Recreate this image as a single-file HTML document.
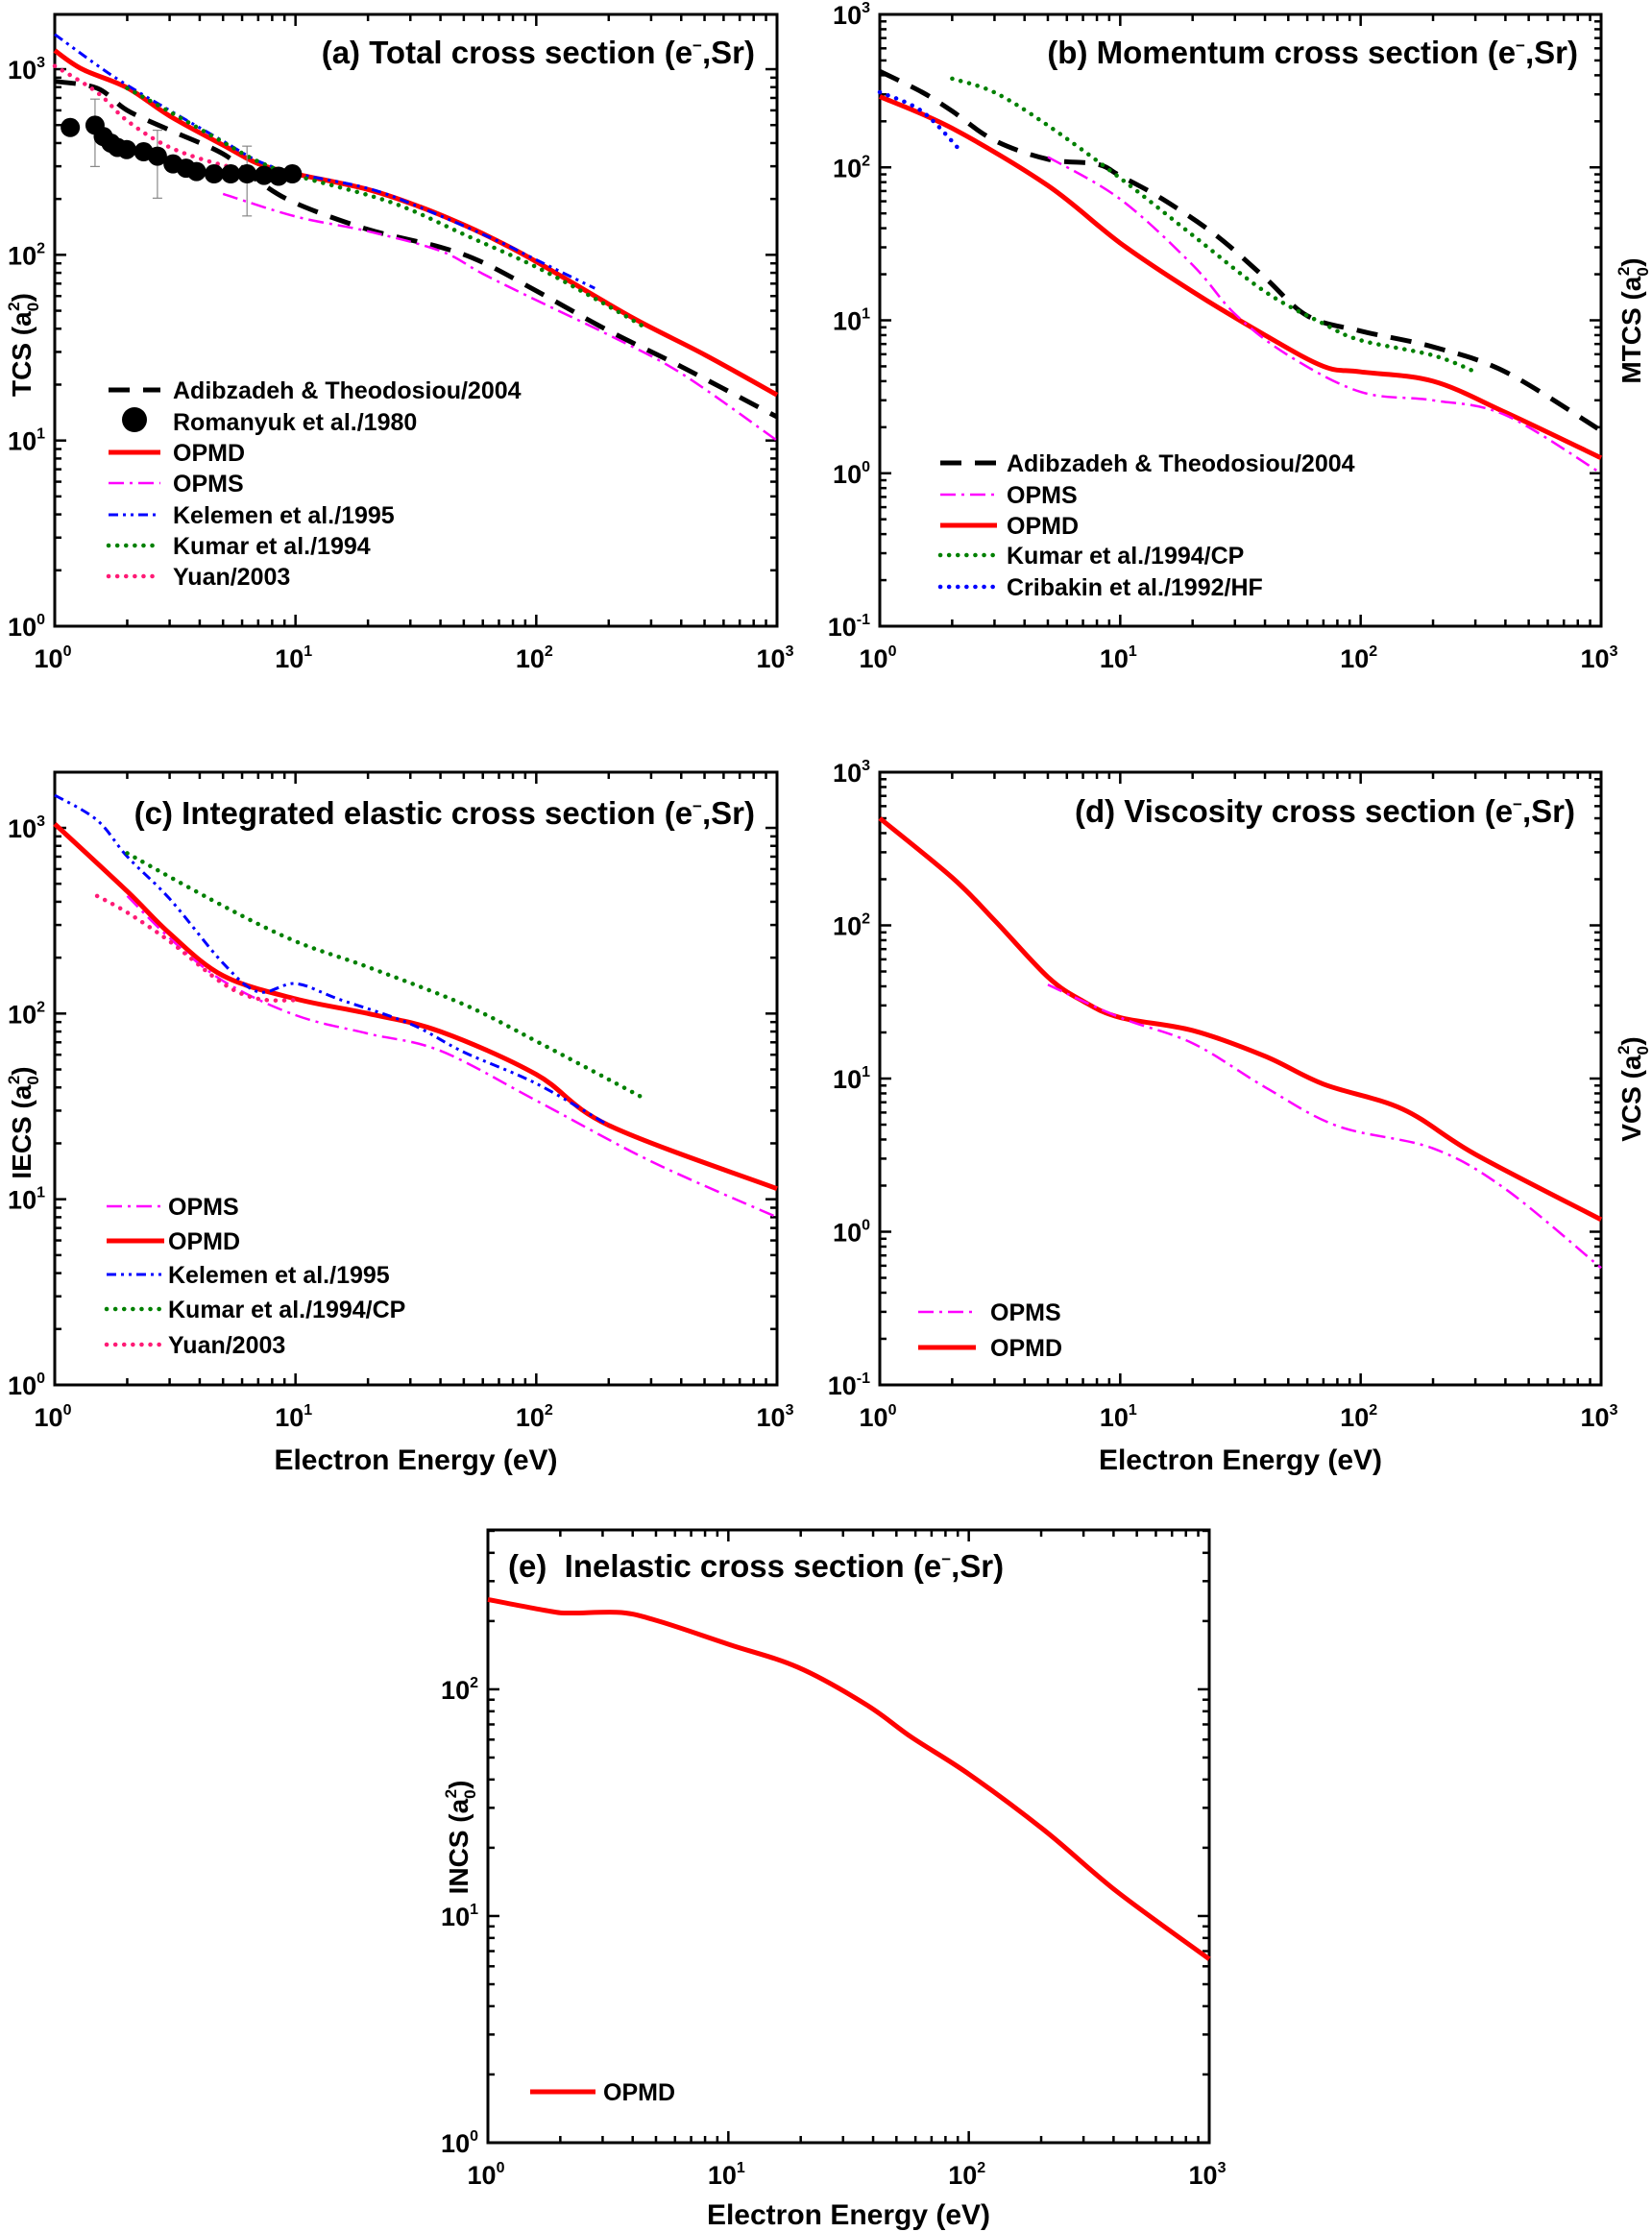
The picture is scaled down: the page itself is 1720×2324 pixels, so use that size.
<!DOCTYPE html>
<html><head><meta charset="utf-8"><style>
html,body{margin:0;padding:0;background:#fff}
svg{display:block}
text{font-family:"Liberation Sans",Arial,sans-serif;font-weight:bold;fill:#000}
</style></head><body>
<svg id="s" width="1720" height="2324" viewBox="0 0 1720 2324" xmlns="http://www.w3.org/2000/svg"></svg>
<script>
const S=document.getElementById('s');const NS='http://www.w3.org/2000/svg';
function el(t,a,txt){const e=document.createElementNS(NS,t);for(const k in a)e.setAttribute(k,a[k]);if(txt!==undefined)e.textContent=txt;S.appendChild(e);return e;}
function pw(b,ex,x,y,anchor,fs){
  const t=el('text',{x:x,y:y,'font-size':fs||27,'text-anchor':anchor||'middle'});
  const a=document.createElementNS(NS,'tspan');a.textContent=b;t.appendChild(a);
  const c=document.createElementNS(NS,'tspan');c.setAttribute('dy',-12);c.setAttribute('font-size',16);c.textContent=ex;t.appendChild(c);
}
function panel(p){
  const X=e=>p.x0+(Math.log10(e))/3*(p.x1-p.x0);
  const Y=v=>p.y1-(Math.log10(v)-p.ymin)/(p.ymax-p.ymin)*(p.y1-p.y0);
  p.X=X;p.Y=Y;
  el('rect',{x:p.x0,y:p.y0,width:p.x1-p.x0,height:p.y1-p.y0,fill:'none',stroke:'#000','stroke-width':3});
  for(let d=0;d<3;d++)for(let m=1;m<10;m++){const x=X(m*Math.pow(10,d));const L=m==1?12:7;
    if(m==1&&d==0)continue;
    el('line',{x1:x,y1:p.y1,x2:x,y2:p.y1-L,stroke:'#000','stroke-width':2.5});
    el('line',{x1:x,y1:p.y0,x2:x,y2:p.y0+L,stroke:'#000','stroke-width':2.5});}
  for(let d=0;d<=3;d++)pw('10',d,X(Math.pow(10,d))-2,p.y1+43);
  for(let d=Math.floor(p.ymin);d<Math.ceil(p.ymax);d++)for(let m=1;m<10;m++){const lv=d+Math.log10(m);if(lv<=p.ymin+1e-6||lv>=p.ymax-1e-6)continue;
    const y=Y(m*Math.pow(10,d));const L=m==1?12:7;
    el('line',{x1:p.x0,y1:y,x2:p.x0+L,y2:y,stroke:'#000','stroke-width':2.5});
    el('line',{x1:p.x1,y1:y,x2:p.x1-L,y2:y,stroke:'#000','stroke-width':2.5});}
  for(let d=Math.ceil(p.ymin);d<=Math.floor(p.ymax+1e-6);d++)pw('10',d,p.x0-10,Y(Math.pow(10,d))+10,'end');
  const yc=p.yc;
  const t=el('text',{x:0,y:0,'font-size':28,'text-anchor':'middle',transform:`translate(${p.ylx},${yc}) rotate(-90)`});
  t.innerHTML=p.yl+' (a<tspan dy="8" font-size="17">0</tspan><tspan dx="-9" dy="-20" font-size="17">2</tspan><tspan dy="12">)</tspan>';
  if(p.xl)el('text',{x:(p.x0+p.x1)/2,y:p.y1+p.xl,'font-size':30,'text-anchor':'middle'},'Electron Energy (eV)');
  const tt=el('text',{x:p.tx,y:p.ty,'font-size':33,'text-anchor':p.ta||'end'});
  tt.innerHTML=p.title;
  return p;
}
function curve(p,data,st){
  const pts=data.map(d=>[p.X(d[0]),p.Y(d[1])]);
  let s='M'+pts[0][0].toFixed(1)+','+pts[0][1].toFixed(1);
  for(let i=0;i<pts.length-1;i++){const p0=pts[Math.max(0,i-1)],p1=pts[i],p2=pts[i+1],p3=pts[Math.min(pts.length-1,i+2)];
    const c1=[p1[0]+(p2[0]-p0[0])/6,p1[1]+(p2[1]-p0[1])/6],c2=[p2[0]-(p3[0]-p1[0])/6,p2[1]-(p3[1]-p1[1])/6];
    s+=`C${c1[0].toFixed(1)},${c1[1].toFixed(1)} ${c2[0].toFixed(1)},${c2[1].toFixed(1)} ${p2[0].toFixed(1)},${p2[1].toFixed(1)}`;}
  const a=Object.assign({d:s,fill:'none'},st);el('path',a);
}
const ST={
 red:{stroke:'#ff0000','stroke-width':5},
 blk:{stroke:'#000','stroke-width':5,'stroke-dasharray':'22,14'},
 mag:{stroke:'#ff00ff','stroke-width':2.5,'stroke-dasharray':'16,6,3,6'},
 blu:{stroke:'#0000ff','stroke-width':3,'stroke-dasharray':'10,5,3,5,3,5'},
 grn:{stroke:'#008000','stroke-width':4.5,'stroke-dasharray':'0.1,9','stroke-linecap':'round'},
 pnk:{stroke:'#ff1a75','stroke-width':4.5,'stroke-dasharray':'0.1,9','stroke-linecap':'round'},
 bdot:{stroke:'#0000ff','stroke-width':4.5,'stroke-dasharray':'0.1,9','stroke-linecap':'round'}
};
function leg(items,lx1,lx2,tx){items.forEach(it=>{
  if(it[0]=='circ')el('circle',{cx:(lx1+lx2)/2,cy:it[2]-2,r:13,fill:'#000'});
  else el('line',Object.assign({x1:lx1,y1:it[2],x2:lx2,y2:it[2]},ST[it[0]]));
  el('text',{x:tx,y:it[2]+9,'font-size':25},it[1]);});}
const TI='<tspan>(e</tspan><tspan dy="-13" font-size="17">−</tspan><tspan dy="13">,Sr)</tspan>';

const a=panel({x0:57,x1:809,y0:15,y1:652,ymin:0,ymax:3.295,ylx:32,yc:359,yl:'TCS',tx:786,ty:66,title:'(a) Total cross section '+TI});
curve(a,[[1,1260],[1.3,1000],[2,794],[3,560],[5,390],[7,310],[10,273],[20,225],[33,181],[50,145],[68,120],[100,92],[250,46],[500,29],[1000,17.6]],ST.red);
curve(a,[[1,1540],[1.5,1050],[2,820],[3,600],[5,410],[7,320],[10,275],[20,228],[33,180],[68,120],[100,94],[175,66]],ST.blu);
curve(a,[[2,790],[3,590],[5,405],[7,318],[10,268],[20,210],[30,175],[50,129],[100,86],[180,57],[280,41]],ST.grn);
curve(a,[[1,860],[1.5,790],[2,600],[3,470],[5,350],[7,250],[10,190],[20,137],[40,110],[60,91],[100,64],[200,39],[400,25],[1000,13.4]],ST.blk);
curve(a,[[5,213],[10,161],[20,134],[40,105],[60,79],[100,57],[200,37],[400,23],[1000,10]],ST.mag);
curve(a,[[1,1040],[1.5,750],[2,527],[3,380],[5,304],[7,287],[10,280]],ST.pnk);
[[1.47,690,299],[2.67,469,202],[6.29,385,162]].forEach(e=>{const x=a.X(e[0]);
 el('line',{x1:x,y1:a.Y(e[1]),x2:x,y2:a.Y(e[2]),stroke:'#888','stroke-width':1.2});
 [e[1],e[2]].forEach(v=>el('line',{x1:x-5,y1:a.Y(v),x2:x+5,y2:a.Y(v),stroke:'#888','stroke-width':1.2}));});
[[1.16,485],[1.47,499],[1.59,434],[1.71,400],[1.82,379],[1.99,369],[2.34,359],[2.67,340],[3.1,309],[3.51,293],[3.88,281],[4.59,273],[5.38,273],[6.29,273],[7.4,268],[8.5,265],[9.7,273]].forEach(d=>el('circle',{cx:a.X(d[0]),cy:a.Y(d[1]),r:10,fill:'#000'}));
leg([['blk','Adibzadeh & Theodosiou/2004',406],['circ','Romanyuk et al./1980',439],['red','OPMD',471],['mag','OPMS',503],['blu','Kelemen et al./1995',536],['grn','Kumar et al./1994',568],['pnk','Yuan/2003',600]],113,167,180);

const b=panel({x0:916,x1:1667,y0:15,y1:652,ymin:-1,ymax:3,ylx:1708,yc:334,yl:'MTCS',tx:1643,ty:66,title:'(b) Momentum cross section '+TI});
curve(b,[[1,290],[2,180],[5,76],[10,32],[20,15.4],[40,8],[70,5],[100,4.6],[200,4.0],[400,2.5],[1000,1.26]],ST.red);
curve(b,[[1,425],[1.5,310],[2,233],[3,150],[5,113],[8,105],[10,88],[15,62],[25,36],[40,19],[60,10.7],[100,8.5],[200,6.7],[400,4.6],[1000,1.9]],ST.blk);
curve(b,[[2,380],[3,309],[5,188],[10,85],[20,36],[40,15.4],[70,9.5],[100,7.4],[200,5.9],[300,4.6]],ST.grn);
curve(b,[[5,117],[10,62],[20,23],[30,11],[50,5.9],[100,3.4],[200,3.0],[400,2.4],[1000,1.0]],ST.mag);
curve(b,[[1,310],[1.5,232],[2.2,125]],ST.bdot);
leg([['blk','Adibzadeh & Theodosiou/2004',482],['mag','OPMS',515],['red','OPMD',547],['grn','Kumar et al./1994/CP',578],['bdot','Cribakin et al./1992/HF',611]],979,1038,1048);

const c=panel({x0:57,x1:809,y0:804,y1:1442,ymin:0,ymax:3.3,ylx:32,yc:1169,yl:'IECS',tx:786,ty:858,title:'(c) Integrated elastic cross section '+TI,xl:88});
curve(c,[[1,1050],[2,455],[3,270],[5,160],[10,120],[20,100],[40,80],[100,47],[200,25],[1000,11.4]],ST.red);
curve(c,[[2,430],[3,255],[5,150],[10,98],[20,78],[40,63],[100,34],[300,16],[1000,8]],ST.mag);
curve(c,[[1,1500],[1.5,1100],[2,700],[3,415],[5,187],[7,131],[10,145],[15,120],[30,88],[50,62],[100,42],[200,25]],ST.blu);
curve(c,[[2,730],[5,380],[10,245],[20,178],[50,112],[100,71],[280,35]],ST.grn);
curve(c,[[1.5,430],[2,350],[3,245],[5,145],[7,120],[10,118]],ST.pnk);
leg([['mag','OPMS',1256],['red','OPMD',1292],['blu','Kelemen et al./1995',1327],['grn','Kumar et al./1994/CP',1363],['pnk','Yuan/2003',1400]],111,171,175);

const d=panel({x0:916,x1:1667,y0:804,y1:1442,ymin:-1,ymax:3,ylx:1708,yc:1134,yl:'VCS',tx:1640,ty:856,title:'(d) Viscosity cross section '+TI,xl:88});
curve(d,[[1,500],[2,205],[3,108],[5,46],[7,32],[10,25],[20,20.6],[40,14],[70,9.2],[150,6.3],[300,3.2],[1000,1.2]],ST.red);
curve(d,[[5,41],[10,25],[20,17],[40,8.8],[80,4.9],[200,3.5],[400,1.9],[1000,0.58]],ST.mag);
leg([['mag','OPMS',1366],['red','OPMD',1403]],956,1016,1031);

const e=panel({x0:508,x1:1259,y0:1593,y1:2231,ymin:0,ymax:2.703,ylx:487,yc:1913,yl:'INCS',tx:529,ty:1642,ta:'start',title:'(e)&#160; Inelastic cross section '+TI,xl:85});
curve(e,[[1,249],[1.81,221],[2.23,217],[3.59,218],[5.2,199],[10,158],[19.5,125],[37.5,85.5],[58,61.3],[101,42],[208,23.7],[414,12.8],[1000,6.46]],ST.red);
leg([['red','OPMD',2178]],552,620,628);
</script>
</body></html>
